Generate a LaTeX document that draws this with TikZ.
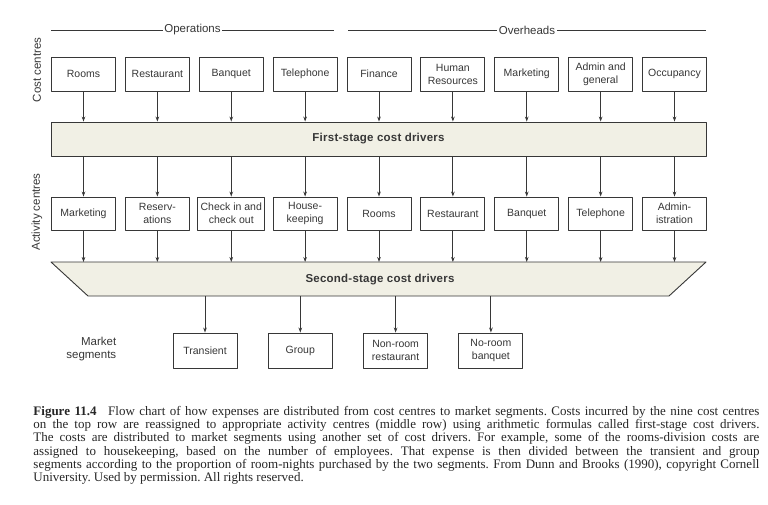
\documentclass[tikz,border=0pt]{standalone}
\usepackage{fontspec}
\setmainfont{Liberation Serif}
\setsansfont{Liberation Sans}
\usetikzlibrary{arrows.meta,positioning}
\definecolor{ink}{RGB}{55,55,55}
\definecolor{bandfill}{RGB}{241,240,229}

\begin{document}
\frenchspacing
\begin{tikzpicture}[x=1pt,y=-1pt,line width=0.9pt,line join=round,color=ink,
		>={Stealth[length=5pt,width=3.6pt]},
		box/.style={draw,fill=white,minimum width=64pt,minimum height=34pt,inner sep=1pt,align=center,
			font=\sffamily\fontsize{10.5}{13}\selectfont},
		band/.style={font=\sffamily\bfseries\fontsize{11.5}{13}\selectfont\addfontfeature{LetterSpace=2}},
		side/.style={font=\sffamily\fontsize{11.5}{13}\selectfont},
		head/.style={fill=white,inner sep=1.5pt,font=\sffamily\fontsize{11.5}{13}\selectfont}]
	\useasboundingbox (0,0) rectangle (768,504);
	% group headings
	\coordinate (opL) at (51,30); \coordinate (opR) at (334,30);
	\coordinate (ovL) at (348,30); \coordinate (ovR) at (706,30);
	\draw (opL) -- (opR) node[head,midway] (ops) {Operations};
	\draw (ovL) -- (ovR) node[head,midway] (ovh) {Overheads};
	\node[side,rotate=90] (costlab) at (37,70) {Cost centres};
	\node[side,rotate=90] (actlab) at (37,212) {Activity centres};
	\node[side,align=right,anchor=east] (mktlab) at (120,349) {Market\\segments};
	% cost centres
	\foreach \i/\t in {1/Rooms,2/Restaurant,3/Banquet,4/Telephone,5/Finance,
		6/{Human\\Resources},7/Marketing,8/{Admin and\\general},9/Occupancy}
	\node[box] (c\i) at ({83.5+73.875*(\i-1)},74) {\t};
	% first stage
	\node[band,draw,fill=bandfill,minimum width=655pt,minimum height=34pt,inner sep=0pt] (stage1) at (378.5,139) {First-stage cost drivers};
	% activity centres
	\foreach \i/\t/\w in {1/Marketing/64,2/{Reserv-\\ations}/64,3/{Check in and\\check out}/67,
		4/{House-\\keeping}/64,5/Rooms/64,6/Restaurant/64,7/Banquet/64,8/Telephone/64,9/{Admin-\\istration}/64}
	\node[box,minimum width=\w pt,minimum height=33pt] (a\i) at ({83.5+73.875*(\i-1)},213.5) {\t};
	% second stage
	\coordinate (s2nw) at (51,262); \coordinate (s2ne) at (706,262);
	\coordinate (s2se) at (669,296); \coordinate (s2sw) at (88,296);
	\draw[fill=bandfill] (s2nw) -- (s2ne) -- (s2se) -- (s2sw) -- cycle;
	\node[band] (stage2) at (380,280) {Second-stage cost drivers};
	% market segments
	\foreach \i/\t in {1/Transient,2/Group,3/{Non-room\\restaurant},4/{No-room\\banquet}}
	\node[box,minimum height=35pt] (m\i) at ({205+95.3*(\i-1)},350.5) {\t};
	% arrows
	\foreach \i in {1,...,9}{
		\draw[->] (c\i) -- (c\i |- stage1.north);
		\draw[->] (stage1.south -| a\i) -- (a\i);
		\draw[->] (a\i) -- (a\i |- s2nw);
	}
	\foreach \i in {1,...,4}
	\draw[->] (m\i |- s2sw) -- (m\i);
	% caption
	\node[anchor=base west,text width=726pt,align=justify,inner sep=0pt,color=black!85,
		font=\fontsize{13}{13.35}\selectfont] (cap) at (33,415)
	{\textbf{Figure 11.4}\hspace{0.9em}Flow chart of how expenses are distributed from cost centres to market segments. Costs incurred by the nine cost centres\linebreak
		on the top row are reassigned to appropriate activity centres (middle row) using arithmetic formulas called first-stage cost drivers.\linebreak
		The costs are distributed to market segments using another set of cost drivers. For example, some of the rooms-division costs are\linebreak
		assigned to housekeeping, based on the number of employees. That expense is then divided between the transient and group\linebreak
		segments according to the proportion of room-nights purchased by the two segments. From Dunn and Brooks (1990), copyright Cornell\linebreak
		University. Used by permission. All rights reserved.};
\end{tikzpicture}
\end{document}
